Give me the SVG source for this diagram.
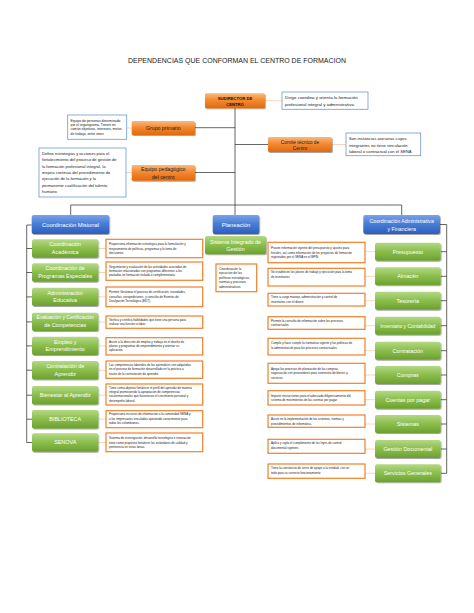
<svg xmlns="http://www.w3.org/2000/svg" width="474" height="613" viewBox="0 0 474 613">
<defs>
<linearGradient id="gO" x1="0" y1="0" x2="0" y2="1"><stop offset="0" stop-color="#FAB97F"/><stop offset="0.45" stop-color="#F28A32"/><stop offset="1" stop-color="#E2680C"/></linearGradient>
<linearGradient id="gB" x1="0" y1="0" x2="0" y2="1"><stop offset="0" stop-color="#7AA3E6"/><stop offset="0.45" stop-color="#4A7ED6"/><stop offset="1" stop-color="#2D5EBE"/></linearGradient>
<linearGradient id="gG" x1="0" y1="0" x2="0" y2="1"><stop offset="0" stop-color="#B4D885"/><stop offset="0.45" stop-color="#8DC04F"/><stop offset="1" stop-color="#6CA02F"/></linearGradient>
<filter id="sh" x="-10%" y="-20%" width="125%" height="150%"><feDropShadow dx="0.8" dy="1" stdDeviation="0.7" flood-color="#000" flood-opacity="0.35"/></filter>
</defs>
<style>
.og{fill:url(#gO);filter:url(#sh)}
.bl{fill:url(#gB);filter:url(#sh)}
.gr{fill:url(#gG);filter:url(#sh)}
.db{fill:#fff;stroke:#F07F2A;stroke-width:1.2}
.dbb{fill:#fff;stroke:#6F97D2;stroke-width:0.8}
.c{stroke:#3F3F3F;stroke-width:0.8;fill:none}
.cl{stroke:#F7C9A6;stroke-width:0.8;fill:none}
text{font-family:"Liberation Sans",Arial,sans-serif}
.lo{font-size:5.2px;fill:#1E1E1E;text-anchor:middle}
.lb{font-size:5.8px;fill:#fff;text-anchor:middle}
.lg{font-size:5.4px;fill:#fff;text-anchor:middle}
.s{font-size:3px;fill:#1A1A1A}
.m{font-size:4.1px;fill:#1A1A1A}
</style>
<rect width="474" height="613" fill="#fff"/>
<text x="237" y="63" font-size="7" fill="#222" text-anchor="middle" textLength="218" lengthAdjust="spacingAndGlyphs">DEPENDENCIAS QUE CONFORMAN EL CENTRO DE FORMACION</text>

<g id="connectors">
<path class="c" d="M235 108.3V215M195 127.7H235M195 172.5H235M235 144.5H268M70.7 205H401.7M70.7 205V215M401.7 205V215"/>
<path class="c" d="M31.7 225H26.7V442.5M26.7 248.5H32M26.7 272.5H32M26.7 296.9H32M26.7 321.9H32M26.7 345.9H32M26.7 370.2H32M26.7 395.2H32M26.7 419.2H32M26.7 442.5H32"/>
<path class="c" d="M440 224.5H446.7V473.3M440.7 251.7H446.7M440.7 276.3H446.7M440.7 300.7H446.7M440.7 325.7H446.7M440.7 350.7H446.7M440.7 375H446.7M440.7 399.7H446.7M440.7 424H446.7M440.7 449H446.7M440.7 473.3H446.7"/>
<path class="cl" d="M265 100.8H282M126.7 128H131.7M126 172.5H131.7M332 144.5H346"/>
<path class="cl" d="M98.3 248.5H106M98.3 272.5H106M98.3 296.9H106M98.3 321.9H106M98.3 345.9H106M98.3 370.2H106M98.3 395.2H106M98.3 419.2H106M98.3 442.5H106"/>
<path class="cl" d="M365 251.7H375M365 276.3H375M365 300.7H375M365 325.7H375M365 350.7H375M365 375H375M365 399.7H375M365 424H375M365 449H375M365 473.3H375"/>
</g>

<g id="subdirector">
<rect class="og" x="205" y="93.3" width="60" height="15" rx="1.5"/>
<text x="235" y="99.8" font-size="4.2" font-weight="bold" fill="#111" text-anchor="middle">SUDIRECTOR DE</text>
<text x="235" y="105.8" font-size="4.2" font-weight="bold" fill="#111" text-anchor="middle">CENTRO</text>
</g>
<g id="subdirector-desc">
<rect class="dbb" x="282" y="92" width="86" height="17.3"/>
<text x="285" y="99.2" font-size="4.4" fill="#1A1A1A">Dirige coordina y orienta la formación</text>
<text x="285" y="105.8" font-size="4.4" fill="#1A1A1A">profesional integral y administrativa.</text>
</g>

<g id="grupo-primario">
<rect class="og" x="131.7" y="121" width="63.3" height="14" rx="1.5"/>
<text class="lo" x="163.3" y="130">Grupo primario</text>
</g>
<g id="grupo-desc">
<rect class="dbb" x="67.7" y="115" width="59" height="24.3"/>
<text x="70.5" y="121.8" font-size="3.4" fill="#1A1A1A">Equipo de personas determinado</text>
<text x="70.5" y="126.1" font-size="3.4" fill="#1A1A1A">por el organigrama. Tienen en</text>
<text x="70.5" y="130.4" font-size="3.4" fill="#1A1A1A">común objetivos, intereses, metas</text>
<text x="70.5" y="134.7" font-size="3.4" fill="#1A1A1A">de trabajo, entre otros</text>
</g>

<g id="equipo-pedagogico">
<rect class="og" x="131.7" y="165" width="63.3" height="15.7" rx="1.5"/>
<text class="lo" x="163.3" y="171.2">Equipo pedagógico</text>
<text class="lo" x="163.3" y="178.6">del centro</text>
</g>
<g id="equipo-desc">
<rect class="dbb" x="39" y="148" width="87" height="49"/>
<text class="m" x="42" y="154.7">Define estrategias y acciones para el</text>
<text class="m" x="42" y="161.1">fortalecimiento del proceso de gestión de</text>
<text class="m" x="42" y="167.5">la formación profesional integral, la</text>
<text class="m" x="42" y="173.9">mejora continua del procedimiento de</text>
<text class="m" x="42" y="180.3">ejecución de la formación y la</text>
<text class="m" x="42" y="186.7">permanente cualificación del talento</text>
<text class="m" x="42" y="193.1">humano.</text>
</g>

<g id="comite">
<rect class="og" x="268" y="137" width="64" height="15" rx="1.5"/>
<text x="300" y="143.5" font-size="4.8" fill="#1E1E1E" text-anchor="middle">Comité técnico de</text>
<text x="300" y="150.1" font-size="4.8" fill="#1E1E1E" text-anchor="middle">Centro</text>
</g>
<g id="comite-desc">
<rect class="dbb" x="346" y="133" width="74.7" height="22.7"/>
<text x="349" y="139.8" font-size="4.2" fill="#1A1A1A">Son instancias asesoras cuyos</text>
<text x="349" y="146.5" font-size="4.2" fill="#1A1A1A">integrantes no tiene vinculación</text>
<text x="349" y="153.2" font-size="4.2" fill="#1A1A1A">laboral o contractual con el SENA</text>
</g>

<g id="coord-misional">
<rect class="bl" x="31.7" y="215" width="77.6" height="19" rx="2"/>
<text class="lb" x="70.5" y="226.5">Coordinación Misional</text>
</g>
<g id="planeacion">
<rect class="bl" x="212.7" y="215" width="46.6" height="19" rx="2"/>
<text class="lb" x="236" y="226.5">Planeación</text>
</g>
<g id="coord-admin">
<rect class="bl" x="363.3" y="215" width="76.7" height="19" rx="2"/>
<text x="401.7" y="222.8" font-size="5.2" fill="#fff" text-anchor="middle">Coordinación Administrativa</text>
<text x="401.7" y="230.8" font-size="5.2" fill="#fff" text-anchor="middle">y Financiera</text>
</g>

<g id="sig">
<rect class="gr" x="205" y="236" width="61" height="18.3" rx="2"/>
<text class="lg" x="235.5" y="243.6">Sistema Integrado de</text>
<text class="lg" x="235.5" y="250.9">Gestión</text>
</g>
<g id="sig-desc">
<rect class="db" x="216" y="264" width="40.7" height="27.7"/>
<text x="219" y="270" font-size="3.2" fill="#1A1A1A">Coordinación la</text>
<text x="219" y="274.4" font-size="3.2" fill="#1A1A1A">ejecución de las</text>
<text x="219" y="278.8" font-size="3.2" fill="#1A1A1A">políticas estratégicas,</text>
<text x="219" y="283.2" font-size="3.2" fill="#1A1A1A">normas y procesos</text>
<text x="219" y="287.6" font-size="3.2" fill="#1A1A1A">administrativos.</text>
</g>

<g id="coord-academica">
<rect class="gr" x="32" y="239.3" width="66.3" height="18.4" rx="2"/>
<text class="lg" x="65.2" y="246.3">Coordinación</text>
<text class="lg" x="65.2" y="254.4">Académica</text>
</g>
<g id="programas-especiales">
<rect class="gr" x="32" y="263.3" width="66.3" height="18.4" rx="2"/>
<text class="lg" x="65.2" y="270.4">Coordinación de</text>
<text class="lg" x="65.2" y="278.4">Programas Especiales</text>
</g>
<g id="admin-educativa">
<rect class="gr" x="32" y="287.7" width="66.3" height="18.4" rx="2"/>
<text class="lg" x="65.2" y="294.9">Administración</text>
<text class="lg" x="65.2" y="302.4">Educativa</text>
</g>
<g id="evaluacion">
<rect class="gr" x="32" y="312.7" width="66.3" height="18.4" rx="2"/>
<text x="65.2" y="318.6" font-size="5" fill="#fff" text-anchor="middle">Evaluación y Certificación</text>
<text class="lg" x="65.2" y="326.9">de Competencias</text>
</g>
<g id="empleo">
<rect class="gr" x="32" y="336.7" width="66.3" height="18.4" rx="2"/>
<text class="lg" x="65.2" y="343.6">Empleo y</text>
<text class="lg" x="65.2" y="351.3">Emprendimiento</text>
</g>
<g id="contratacion-aprendiz">
<rect class="gr" x="32" y="361" width="66.3" height="18.4" rx="2"/>
<text class="lg" x="65.2" y="367.9">Contratación de</text>
<text class="lg" x="65.2" y="375.9">Aprendiz</text>
</g>
<g id="bienestar">
<rect class="gr" x="32" y="386" width="66.3" height="18.4" rx="2"/>
<text class="lg" x="65.2" y="397.1">Bienestar al Aprendiz</text>
</g>
<g id="biblioteca">
<rect class="gr" x="32" y="410" width="66.3" height="18.4" rx="2"/>
<text class="lg" x="65.2" y="421.1">BIBLIOTECA</text>
</g>
<g id="senova">
<rect class="gr" x="32" y="433.3" width="66.3" height="18.4" rx="2"/>
<text class="lg" x="65.2" y="444.4">SENOVA</text>
</g>

<g id="desc-academica">
<rect class="db" x="106" y="239.3" width="96.7" height="18.4"/>
<text class="s" x="109" y="245.4">Proporciona información estratégica para la formulación y</text>
<text class="s" x="109" y="249.7">mejoramiento de políticas, programas y la toma de</text>
<text class="s" x="109" y="254">decisiones.</text>
</g>
<g id="desc-programas">
<rect class="db" x="106" y="262" width="96.7" height="18.3"/>
<text class="s" x="109" y="267.6">Seguimiento y evaluación de las actividades asociadas de</text>
<text class="s" x="109" y="271.9">formación relacionadas con programas diferentes a los</text>
<text class="s" x="109" y="276.2">pautados en formación titulada o complementaria.</text>
</g>
<g id="desc-admin">
<rect class="db" x="106" y="287" width="96.7" height="19.7"/>
<text class="s" x="109" y="293.4">Permite Gestionar el proceso de certificación, novedades,</text>
<text class="s" x="109" y="297.7">consultas, reexpediciones, y consulta de Eventos de</text>
<text class="s" x="109" y="302">Divulgación Tecnológica (EDT).</text>
</g>
<g id="desc-evaluacion">
<rect class="db" x="106" y="316" width="96.7" height="12.3"/>
<text class="s" x="109" y="321.1">Verifica y certifica habilidades que tiene una persona para</text>
<text class="s" x="109" y="325.4">realizar una función o labor.</text>
</g>
<g id="desc-empleo">
<rect class="db" x="106" y="337.7" width="96.7" height="17.3"/>
<text class="s" x="109" y="342.8">Asiste a la dirección de empleo y trabajo en el diseño de</text>
<text class="s" x="109" y="347.1">planes y programas de emprendimiento y orientar su</text>
<text class="s" x="109" y="351.4">aplicación.</text>
</g>
<g id="desc-contratacion">
<rect class="db" x="106" y="361" width="96.7" height="17.3"/>
<text class="s" x="109" y="366.1">Las competencias laborales de los aprendices son adquiridas</text>
<text class="s" x="109" y="370.4">en el proceso de formación desarrollado en la práctica a</text>
<text class="s" x="109" y="374.7">través de la contratación de aprendiz.</text>
</g>
<g id="desc-bienestar">
<rect class="db" x="106" y="384" width="96.7" height="21"/>
<text class="s" x="109" y="388.8">Tiene como objetivo fortalecer el perfil del aprendiz de manera</text>
<text class="s" x="109" y="393.1">integral promoviendo la apropiación de competencias</text>
<text class="s" x="109" y="397.4">socioemocionales que favorezcan el crecimiento personal y</text>
<text class="s" x="109" y="401.7">desempeño laboral.</text>
</g>
<g id="desc-biblioteca">
<rect class="db" x="106" y="410.7" width="96.7" height="17"/>
<text class="s" x="109" y="415.3">Proporciona recursos de información a la comunidad SENA y</text>
<text class="s" x="109" y="419.6">a los empresarios vinculados aportando conocimiento para</text>
<text class="s" x="109" y="423.9">todos los colombianos.</text>
</g>
<g id="desc-senova">
<rect class="db" x="106" y="433" width="96.7" height="18.7"/>
<text class="s" x="109" y="439.4">Sistema de investigación, desarrollo tecnológico e innovación</text>
<text class="s" x="109" y="443.7">tiene como propósito fortalecer los estándares de calidad y</text>
<text class="s" x="109" y="448">pertinencia en estas áreas.</text>
</g>

<g id="presupuesto">
<rect class="gr" x="375" y="242.7" width="65.7" height="18" rx="2"/>
<text class="lg" x="407.8" y="253.7">Presupuesto</text>
</g>
<g id="almacen">
<rect class="gr" x="375" y="267.3" width="65.7" height="18" rx="2"/>
<text class="lg" x="407.8" y="278.3">Almacén</text>
</g>
<g id="tesoreria">
<rect class="gr" x="375" y="291.7" width="65.7" height="18" rx="2"/>
<text class="lg" x="407.8" y="302.7">Tesorería</text>
</g>
<g id="inventario">
<rect class="gr" x="375" y="316.7" width="65.7" height="18" rx="2"/>
<text x="407.8" y="327.6" font-size="5" fill="#fff" text-anchor="middle">Inventario y Contabilidad</text>
</g>
<g id="contratacion">
<rect class="gr" x="375" y="341.7" width="65.7" height="18" rx="2"/>
<text class="lg" x="407.8" y="352.7">Contratación</text>
</g>
<g id="compras">
<rect class="gr" x="375" y="366" width="65.7" height="18" rx="2"/>
<text class="lg" x="407.8" y="377">Compras</text>
</g>
<g id="cuentas">
<rect class="gr" x="375" y="390.7" width="65.7" height="18" rx="2"/>
<text class="lg" x="407.8" y="401.7">Cuentas por pagar</text>
</g>
<g id="sistemas">
<rect class="gr" x="375" y="415" width="65.7" height="18" rx="2"/>
<text class="lg" x="407.8" y="426">Sistemas</text>
</g>
<g id="gestion-documental">
<rect class="gr" x="375" y="440" width="65.7" height="18" rx="2"/>
<text class="lg" x="407.8" y="451">Gestión Documental</text>
</g>
<g id="servicios-generales">
<rect class="gr" x="375" y="464.3" width="65.7" height="18" rx="2"/>
<text class="lg" x="407.8" y="475.3">Servicios Generales</text>
</g>

<g id="desc-presupuesto">
<rect class="db" x="268" y="242.3" width="97" height="20.4"/>
<text class="s" x="271" y="249.4">Provee información vigente del presupuesto y ajustes para</text>
<text class="s" x="271" y="253.8">fiscales, así como información de los proyectos de formación</text>
<text class="s" x="271" y="258.1">registrados por el SENA en el BPIN</text>
</g>
<g id="desc-almacen">
<rect class="db" x="268" y="268.3" width="97" height="17.7"/>
<text class="s" x="271" y="273.4">Se establecen los planes de trabajo y ejecución para la toma</text>
<text class="s" x="271" y="277.8">de inventarios</text>
</g>
<g id="desc-tesoreria">
<rect class="db" x="268" y="293.3" width="97" height="12.7"/>
<text class="s" x="271" y="298.4">Tiene a cargo manejo, administración y control de</text>
<text class="s" x="271" y="302.8">inventarios con el dinero</text>
</g>
<g id="desc-inventario">
<rect class="db" x="268" y="316.7" width="97" height="12.6"/>
<text class="s" x="271" y="321.8">Permite la consulta de información sobre los procesos</text>
<text class="s" x="271" y="326.1">contractuales</text>
</g>
<g id="desc-contratacion-adm">
<rect class="db" x="268" y="338.3" width="97" height="16.7"/>
<text class="s" x="271" y="344.4">Cumple y hace cumplir la normativa vigente y las políticas de</text>
<text class="s" x="271" y="349.2">la administración para los procesos contractuales.</text>
</g>
<g id="desc-compras">
<rect class="db" x="268" y="363.3" width="97" height="20"/>
<text class="s" x="271" y="369.6">Apoya los procesos de planeación de las compras,</text>
<text class="s" x="271" y="374.2">negociación con proveedores para suministro de bienes y</text>
<text class="s" x="271" y="378.8">servicios</text>
</g>
<g id="desc-cuentas">
<rect class="db" x="268" y="390.7" width="97" height="14.3"/>
<text class="s" x="271" y="396.6">Imparte instrucciones para el adecuado diligenciamiento del</text>
<text class="s" x="271" y="401">sistema de movimientos de las cuentas por pagar</text>
</g>
<g id="desc-sistemas">
<rect class="db" x="268" y="415" width="97" height="12.3"/>
<text class="s" x="271" y="420.2">Asiste en la implementación de los sistemas, normas y</text>
<text class="s" x="271" y="424.5">procedimientos de informática.</text>
</g>
<g id="desc-gestion">
<rect class="db" x="268" y="439.3" width="97" height="14"/>
<text class="s" x="271" y="444.4">Aplica y vigila el cumplimiento de las leyes de control</text>
<text class="s" x="271" y="448.8">documental vigentes</text>
</g>
<g id="desc-servicios">
<rect class="db" x="268" y="464" width="97" height="14.3"/>
<text class="s" x="271" y="469.4">Tiene la constancia de servir de apoyo a la entidad, con un</text>
<text class="s" x="271" y="473.8">todo para su correcto funcionamiento</text>
</g>
</svg>
